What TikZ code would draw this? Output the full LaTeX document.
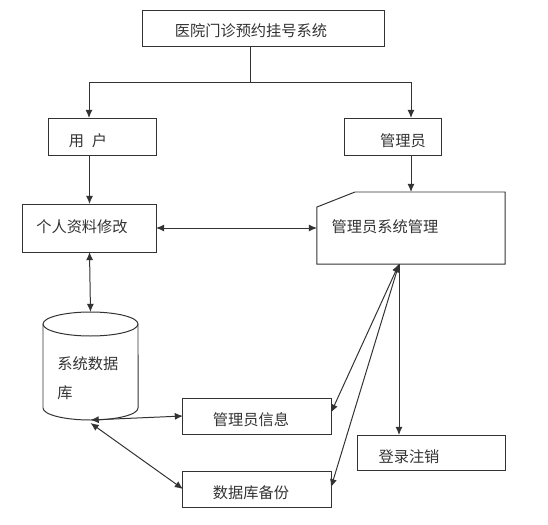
\documentclass[tikz,border=0pt]{standalone}
\usepackage{fontspec}
\newfontfamily\cjk{Noto Sans CJK SC}
\usetikzlibrary{arrows.meta}
\tikzset{
  box/.style={draw, rectangle, outer sep=0pt, inner sep=0pt},
  hidden/.style={rectangle, outer sep=0pt, inner sep=0pt},
  txt/.style={font=\cjk\fontsize{13}{15}\selectfont, inner sep=0pt},
}
\begin{document}
\begin{tikzpicture}[x=0.03cm, y=-0.03cm, line width=0.85pt, color=black!80, >={Latex[length=7pt,width=6pt]}]
\useasboundingbox (0,0) rectangle (548,525);
\node[box, minimum width=7.23cm, minimum height=1.08cm] (sys) at (263.5,28) {};
\node[txt] (sys-t) at (251,31) {医院门诊预约挂号系统};
\node[box, minimum width=3.21cm, minimum height=1.11cm] (user) at (102.5,136.5) {};
\node[txt] (user-t) at (88,141) {用\hspace{0.5em}户};
\node[box, minimum width=2.91cm, minimum height=1.11cm] (admin) at (392.5,136.5) {};
\node[txt] (admin-t) at (403,141) {管理员};
\node[box, minimum width=3.99cm, minimum height=1.44cm] (edit) at (89.5,228) {};
\node[txt] (edit-t) at (82,227) {个人资料修改};
\node[hidden, minimum width=5.64cm, minimum height=2.16cm] (mgmt) at (411,228) {};
\draw ([yshift=-0.45cm]mgmt.north west) -- ([xshift=1.14cm]mgmt.north west) -- (mgmt.north east)
  -- (mgmt.south east) -- (mgmt.south west) -- cycle;
\node[txt] (mgmt-t) at (385,227) {管理员系统管理};
\node[hidden, minimum width=2.85cm, minimum height=3.24cm] (db) at (90.5,366) {};
\draw (90.5,324) ellipse [x radius=1.425cm, y radius=0.36cm];
\draw (43,324) -- (43,408) arc [start angle=180, end angle=360, x radius=1.425cm, y radius=0.36cm] -- (138,324);
\node[txt, font=\cjk\fontsize{13}{24.7}\selectfont, align=left, anchor=west] (db-t) at (57,378.5) {系统数据\\库};
\node[box, minimum width=4.44cm, minimum height=1.08cm] (info) at (257,416) {};
\node[txt] (info-t) at (251,420) {管理员信息};
\node[box, minimum width=4.44cm, minimum height=1.08cm] (backup) at (257,489) {};
\node[txt] (backup-t) at (251,493) {数据库备份};
\node[box, minimum width=4.44cm, minimum height=1.05cm] (logout) at (431,452.5) {};
\node[txt] (logout-t) at (409,457) {登录注销};
\coordinate (split) at (250,82);
\coordinate (hub) at ([xshift=-0.36cm]mgmt.south);
\draw (split |- sys.south) -- (split);
\draw[->] (split) -| ([xshift=-0.405cm]user.north);
\draw[->] (split) -| ([xshift=0.555cm]admin.north);
\draw[->] (user.south -| edit.north) -- (edit.north);
\draw[->] (admin.south -| mgmt.north) -- (mgmt.north);
\draw[<->] (edit.east) -- (mgmt.west);
\draw[<->] (edit.south) -- (db.north);
\draw[<->] (db.south) -- (info.west);
\draw[<->] ([yshift=-0.09cm]db.south) -- (backup.west);
\draw[<->] (hub) -- ([yshift=0.1cm]info.east);
\draw[<->] (hub) -- ([yshift=0.05cm]backup.east);
\draw[->] (hub) -- (hub |- logout.north);
\end{tikzpicture}
\end{document}
